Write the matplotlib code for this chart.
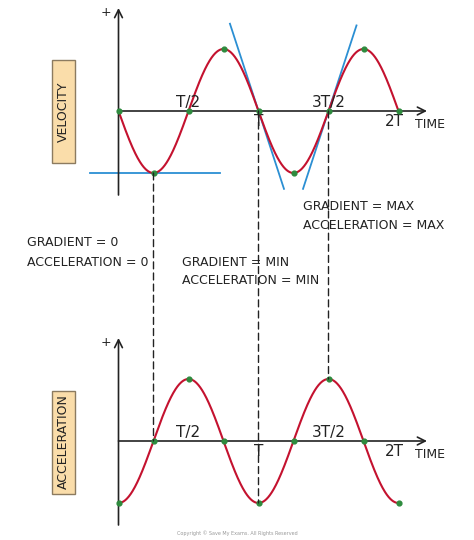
import numpy as np
import matplotlib
matplotlib.use("Agg")
import matplotlib.pyplot as plt
from matplotlib.patches import Rectangle, ConnectionPatch

# key points of the motion (time in units of T, values in units of amplitude)
key_times = [0, 0.25, 0.5, 0.75, 1.0, 1.25, 1.5, 1.75, 2.0]
velocity_pts = [0, -1, 0, 1, 0, -1, 0, 1, 0]
acceleration_pts = [-1, 0, 1, 0, -1, 0, 1, 0, -1]

# tangents drawn on the velocity curve
tangent_t = [0.25, 1.0, 1.5]
tangent_slope = [0.0, -6.9, 6.9]
tangent_from = [-0.204, 0.796, 1.318]
tangent_to = [0.725, 1.182, 1.70]

# dashed links velocity -> acceleration
link_t = [0.25, 1.0, 1.5]

tick_labels = ["T/2", "T", "3T/2", "2T"]
tick_times = [0.5, 1.0, 1.5, 2.0]

RED = "#C4122F"
BLUE = "#2B8FD3"
GREEN = "#2E8B3E"
INK = "#222222"
W, H = 474, 540

fig = plt.figure(figsize=(W / 100, H / 100), dpi=100)
fig.patch.set_facecolor("white")

X0, TPX, APX = 118.5, 140.0, 62.0  # origin px, px per T, px per amplitude


def make_axes(top, bottom, zero_y):
    ax = fig.add_axes([0, 1 - bottom / H, 1, (bottom - top) / H])
    ax.set_xlim((0 - X0) / TPX, (W - X0) / TPX)
    ax.set_ylim((zero_y - bottom) / APX, (zero_y - top) / APX)
    ax.axis("off")
    return ax


ax_v = make_axes(0, 200, 111)
ax_a = make_axes(330, 540, 441)

t = np.linspace(0, 2, 600)
ax_v.plot(t, -np.sin(2 * np.pi * t), color=RED, lw=1.5, zorder=3)
ax_a.plot(t, -np.cos(2 * np.pi * t), color=RED, lw=1.5, zorder=3)

# tangents
for t0, m, a, b in zip(tangent_t, tangent_slope, tangent_from, tangent_to):
    v0 = -np.sin(2 * np.pi * t0)
    xs = np.array([a, b])
    ax_v.plot(xs, v0 + m * (xs - t0), color=BLUE, lw=1.3, zorder=2)

ax_v.scatter(key_times, velocity_pts, s=12, color=GREEN, zorder=5)
ax_a.scatter(key_times, acceleration_pts, s=12, color=GREEN, zorder=5)

# axes with arrows
for ax, zy, ytop, ybot in [(ax_v, 111, 8, 195), (ax_a, 441, 338, 525)]:
    top = (zy - ytop) / APX
    bot = (zy - ybot) / APX
    ax.annotate("", xy=(0, top), xytext=(0, bot),
                arrowprops=dict(arrowstyle="->", lw=1.2, color=INK,
                                mutation_scale=14, shrinkA=0, shrinkB=0))
    ax.annotate("", xy=((427 - X0) / TPX, 0), xytext=(0, 0),
                arrowprops=dict(arrowstyle="->", lw=1.2, color=INK,
                                mutation_scale=14, shrinkA=0, shrinkB=0))
    ax.text(-13 / TPX, top - 4 / APX, "+", fontsize=9, ha="center",
            va="center", color=INK)
    for lab, tt in zip(tick_labels, tick_times):
        if lab in ("T/2", "3T/2"):
            ax.text(tt, 9 / APX, lab, fontsize=11, ha="center", va="center", color=INK)
        elif lab == "T":
            ax.text(tt, -11 / APX, lab, fontsize=11, ha="center", va="center", color=INK)
        else:
            ax.text(tt - 4 / TPX, -11 / APX, lab, fontsize=11, ha="center",
                    va="center", color=INK)
    ax.text((415 - X0) / TPX, -14 / APX, "TIME", fontsize=9, ha="left",
            va="center", color=INK)

# dashed links
for tt in link_t:
    ya = -np.sin(2 * np.pi * tt)
    yb = -np.cos(2 * np.pi * tt)
    con = ConnectionPatch(xyA=(tt, ya), coordsA=ax_v.transData,
                          xyB=(tt, yb), coordsB=ax_a.transData,
                          color=INK, lw=1.0, linestyle=(0, (5, 3)), zorder=1)
    fig.add_artist(con)

# side label boxes
for cy, lab in [(111.5, "VELOCITY"), (442, "ACCELERATION")]:
    fig.add_artist(Rectangle((52 / W, 1 - (cy + 51.5) / H), 23 / W, 103 / H,
                             transform=fig.transFigure, facecolor="#FADDAA",
                             edgecolor="#8C7B60", lw=1.0))
    fig.text(63.5 / W, 1 - cy / H, lab, rotation=90, fontsize=9,
             ha="center", va="center", color=INK)

# annotations
notes = [(27, 243, "GRADIENT = 0"), (27, 262, "ACCELERATION = 0"),
         (182, 262, "GRADIENT = MIN"), (182, 280, "ACCELERATION = MIN"),
         (303, 207, "GRADIENT = MAX"), (303, 225, "ACCELERATION = MAX")]
for x, y, s in notes:
    fig.text(x / W, 1 - y / H, s, fontsize=9, ha="left", va="center", color=INK)

fig.text(237 / W, 1 - 533 / H, "Copyright © Save My Exams. All Rights Reserved",
         fontsize=3.5, ha="center", va="center", color="#999999")

fig.savefig("out.png", dpi=100)
